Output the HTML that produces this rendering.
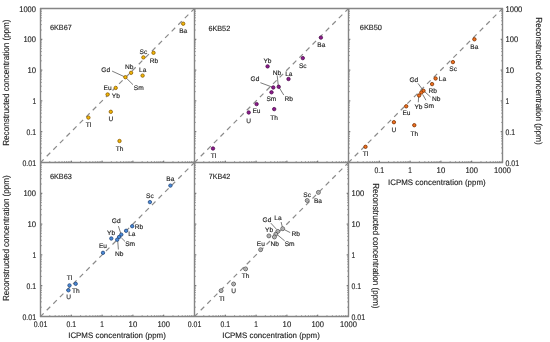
<!DOCTYPE html>
<html><head><meta charset="utf-8"><style>
html,body{margin:0;padding:0;background:#fff;}
svg{display:block;}
text{font-family:"Liberation Sans", sans-serif;text-rendering:geometricPrecision;stroke:#1e1e1e;stroke-width:0.14px;}
</style></head><body>
<svg width="550" height="342" viewBox="0 0 550 342">
<rect width="550" height="342" fill="#fff"/>
<line x1="40.50" y1="162.50" x2="194.50" y2="8.50" stroke="#8a8a8a" stroke-width="1.2" stroke-dasharray="5 4.3" stroke-dashoffset="0.5"/>
<line x1="194.50" y1="162.50" x2="348.50" y2="8.50" stroke="#8a8a8a" stroke-width="1.2" stroke-dasharray="5 4.3" stroke-dashoffset="0.5"/>
<line x1="348.50" y1="162.50" x2="502.50" y2="8.50" stroke="#8a8a8a" stroke-width="1.2" stroke-dasharray="5 4.3" stroke-dashoffset="0.5"/>
<line x1="40.50" y1="316.50" x2="194.50" y2="162.50" stroke="#8a8a8a" stroke-width="1.2" stroke-dasharray="5 4.3" stroke-dashoffset="0.5"/>
<line x1="194.50" y1="316.50" x2="348.50" y2="162.50" stroke="#8a8a8a" stroke-width="1.2" stroke-dasharray="5 4.3" stroke-dashoffset="0.5"/>
<path d="M49.77 162.80V161.50M40.20 153.23H41.50M55.20 162.80V161.50M40.20 147.80H41.50M59.04 162.80V161.50M40.20 143.96H41.50M62.03 162.80V161.50M40.20 140.97H41.50M64.47 162.80V161.50M40.20 138.53H41.50M66.53 162.80V161.50M40.20 136.47H41.50M68.32 162.80V161.50M40.20 134.68H41.50M69.89 162.80V161.50M40.20 133.11H41.50M71.30 162.80V160.70M40.20 131.70H42.30M80.57 162.80V161.50M40.20 122.43H41.50M86.00 162.80V161.50M40.20 117.00H41.50M89.84 162.80V161.50M40.20 113.16H41.50M92.83 162.80V161.50M40.20 110.17H41.50M95.27 162.80V161.50M40.20 107.73H41.50M97.33 162.80V161.50M40.20 105.67H41.50M99.12 162.80V161.50M40.20 103.88H41.50M100.69 162.80V161.50M40.20 102.31H41.50M102.10 162.80V160.70M40.20 100.90H42.30M111.37 162.80V161.50M40.20 91.63H41.50M116.80 162.80V161.50M40.20 86.20H41.50M120.64 162.80V161.50M40.20 82.36H41.50M123.63 162.80V161.50M40.20 79.37H41.50M126.07 162.80V161.50M40.20 76.93H41.50M128.13 162.80V161.50M40.20 74.87H41.50M129.92 162.80V161.50M40.20 73.08H41.50M131.49 162.80V161.50M40.20 71.51H41.50M132.90 162.80V160.70M40.20 70.10H42.30M142.17 162.80V161.50M40.20 60.83H41.50M147.60 162.80V161.50M40.20 55.40H41.50M151.44 162.80V161.50M40.20 51.56H41.50M154.43 162.80V161.50M40.20 48.57H41.50M156.87 162.80V161.50M40.20 46.13H41.50M158.93 162.80V161.50M40.20 44.07H41.50M160.72 162.80V161.50M40.20 42.28H41.50M162.29 162.80V161.50M40.20 40.71H41.50M163.70 162.80V160.70M40.20 39.30H42.30M172.97 162.80V161.50M40.20 30.03H41.50M178.40 162.80V161.50M40.20 24.60H41.50M182.24 162.80V161.50M40.20 20.76H41.50M185.23 162.80V161.50M40.20 17.77H41.50M187.67 162.80V161.50M40.20 15.33H41.50M189.73 162.80V161.50M40.20 13.27H41.50M191.52 162.80V161.50M40.20 11.48H41.50M193.09 162.80V161.50M40.20 9.91H41.50M203.77 162.80V161.50M194.20 153.23H195.50M209.20 162.80V161.50M194.20 147.80H195.50M213.04 162.80V161.50M194.20 143.96H195.50M216.03 162.80V161.50M194.20 140.97H195.50M218.47 162.80V161.50M194.20 138.53H195.50M220.53 162.80V161.50M194.20 136.47H195.50M222.32 162.80V161.50M194.20 134.68H195.50M223.89 162.80V161.50M194.20 133.11H195.50M225.30 162.80V160.70M194.20 131.70H196.30M234.57 162.80V161.50M194.20 122.43H195.50M240.00 162.80V161.50M194.20 117.00H195.50M243.84 162.80V161.50M194.20 113.16H195.50M246.83 162.80V161.50M194.20 110.17H195.50M249.27 162.80V161.50M194.20 107.73H195.50M251.33 162.80V161.50M194.20 105.67H195.50M253.12 162.80V161.50M194.20 103.88H195.50M254.69 162.80V161.50M194.20 102.31H195.50M256.10 162.80V160.70M194.20 100.90H196.30M265.37 162.80V161.50M194.20 91.63H195.50M270.80 162.80V161.50M194.20 86.20H195.50M274.64 162.80V161.50M194.20 82.36H195.50M277.63 162.80V161.50M194.20 79.37H195.50M280.07 162.80V161.50M194.20 76.93H195.50M282.13 162.80V161.50M194.20 74.87H195.50M283.92 162.80V161.50M194.20 73.08H195.50M285.49 162.80V161.50M194.20 71.51H195.50M286.90 162.80V160.70M194.20 70.10H196.30M296.17 162.80V161.50M194.20 60.83H195.50M301.60 162.80V161.50M194.20 55.40H195.50M305.44 162.80V161.50M194.20 51.56H195.50M308.43 162.80V161.50M194.20 48.57H195.50M310.87 162.80V161.50M194.20 46.13H195.50M312.93 162.80V161.50M194.20 44.07H195.50M314.72 162.80V161.50M194.20 42.28H195.50M316.29 162.80V161.50M194.20 40.71H195.50M317.70 162.80V160.70M194.20 39.30H196.30M326.97 162.80V161.50M194.20 30.03H195.50M332.40 162.80V161.50M194.20 24.60H195.50M336.24 162.80V161.50M194.20 20.76H195.50M339.23 162.80V161.50M194.20 17.77H195.50M341.67 162.80V161.50M194.20 15.33H195.50M343.73 162.80V161.50M194.20 13.27H195.50M345.52 162.80V161.50M194.20 11.48H195.50M347.09 162.80V161.50M194.20 9.91H195.50M357.77 162.80V161.50M348.20 153.23H349.50M502.80 153.23H501.50M363.20 162.80V161.50M348.20 147.80H349.50M502.80 147.80H501.50M367.04 162.80V161.50M348.20 143.96H349.50M502.80 143.96H501.50M370.03 162.80V161.50M348.20 140.97H349.50M502.80 140.97H501.50M372.47 162.80V161.50M348.20 138.53H349.50M502.80 138.53H501.50M374.53 162.80V161.50M348.20 136.47H349.50M502.80 136.47H501.50M376.32 162.80V161.50M348.20 134.68H349.50M502.80 134.68H501.50M377.89 162.80V161.50M348.20 133.11H349.50M502.80 133.11H501.50M379.30 162.80V160.70M348.20 131.70H350.30M502.80 131.70H500.70M388.57 162.80V161.50M348.20 122.43H349.50M502.80 122.43H501.50M394.00 162.80V161.50M348.20 117.00H349.50M502.80 117.00H501.50M397.84 162.80V161.50M348.20 113.16H349.50M502.80 113.16H501.50M400.83 162.80V161.50M348.20 110.17H349.50M502.80 110.17H501.50M403.27 162.80V161.50M348.20 107.73H349.50M502.80 107.73H501.50M405.33 162.80V161.50M348.20 105.67H349.50M502.80 105.67H501.50M407.12 162.80V161.50M348.20 103.88H349.50M502.80 103.88H501.50M408.69 162.80V161.50M348.20 102.31H349.50M502.80 102.31H501.50M410.10 162.80V160.70M348.20 100.90H350.30M502.80 100.90H500.70M419.37 162.80V161.50M348.20 91.63H349.50M502.80 91.63H501.50M424.80 162.80V161.50M348.20 86.20H349.50M502.80 86.20H501.50M428.64 162.80V161.50M348.20 82.36H349.50M502.80 82.36H501.50M431.63 162.80V161.50M348.20 79.37H349.50M502.80 79.37H501.50M434.07 162.80V161.50M348.20 76.93H349.50M502.80 76.93H501.50M436.13 162.80V161.50M348.20 74.87H349.50M502.80 74.87H501.50M437.92 162.80V161.50M348.20 73.08H349.50M502.80 73.08H501.50M439.49 162.80V161.50M348.20 71.51H349.50M502.80 71.51H501.50M440.90 162.80V160.70M348.20 70.10H350.30M502.80 70.10H500.70M450.17 162.80V161.50M348.20 60.83H349.50M502.80 60.83H501.50M455.60 162.80V161.50M348.20 55.40H349.50M502.80 55.40H501.50M459.44 162.80V161.50M348.20 51.56H349.50M502.80 51.56H501.50M462.43 162.80V161.50M348.20 48.57H349.50M502.80 48.57H501.50M464.87 162.80V161.50M348.20 46.13H349.50M502.80 46.13H501.50M466.93 162.80V161.50M348.20 44.07H349.50M502.80 44.07H501.50M468.72 162.80V161.50M348.20 42.28H349.50M502.80 42.28H501.50M470.29 162.80V161.50M348.20 40.71H349.50M502.80 40.71H501.50M471.70 162.80V160.70M348.20 39.30H350.30M502.80 39.30H500.70M480.97 162.80V161.50M348.20 30.03H349.50M502.80 30.03H501.50M486.40 162.80V161.50M348.20 24.60H349.50M502.80 24.60H501.50M490.24 162.80V161.50M348.20 20.76H349.50M502.80 20.76H501.50M493.23 162.80V161.50M348.20 17.77H349.50M502.80 17.77H501.50M495.67 162.80V161.50M348.20 15.33H349.50M502.80 15.33H501.50M497.73 162.80V161.50M348.20 13.27H349.50M502.80 13.27H501.50M499.52 162.80V161.50M348.20 11.48H349.50M502.80 11.48H501.50M501.09 162.80V161.50M348.20 9.91H349.50M502.80 9.91H501.50M49.77 316.80V315.50M40.20 307.23H41.50M55.20 316.80V315.50M40.20 301.80H41.50M59.04 316.80V315.50M40.20 297.96H41.50M62.03 316.80V315.50M40.20 294.97H41.50M64.47 316.80V315.50M40.20 292.53H41.50M66.53 316.80V315.50M40.20 290.47H41.50M68.32 316.80V315.50M40.20 288.68H41.50M69.89 316.80V315.50M40.20 287.11H41.50M71.30 316.80V314.70M40.20 285.70H42.30M80.57 316.80V315.50M40.20 276.43H41.50M86.00 316.80V315.50M40.20 271.00H41.50M89.84 316.80V315.50M40.20 267.16H41.50M92.83 316.80V315.50M40.20 264.17H41.50M95.27 316.80V315.50M40.20 261.73H41.50M97.33 316.80V315.50M40.20 259.67H41.50M99.12 316.80V315.50M40.20 257.88H41.50M100.69 316.80V315.50M40.20 256.31H41.50M102.10 316.80V314.70M40.20 254.90H42.30M111.37 316.80V315.50M40.20 245.63H41.50M116.80 316.80V315.50M40.20 240.20H41.50M120.64 316.80V315.50M40.20 236.36H41.50M123.63 316.80V315.50M40.20 233.37H41.50M126.07 316.80V315.50M40.20 230.93H41.50M128.13 316.80V315.50M40.20 228.87H41.50M129.92 316.80V315.50M40.20 227.08H41.50M131.49 316.80V315.50M40.20 225.51H41.50M132.90 316.80V314.70M40.20 224.10H42.30M142.17 316.80V315.50M40.20 214.83H41.50M147.60 316.80V315.50M40.20 209.40H41.50M151.44 316.80V315.50M40.20 205.56H41.50M154.43 316.80V315.50M40.20 202.57H41.50M156.87 316.80V315.50M40.20 200.13H41.50M158.93 316.80V315.50M40.20 198.07H41.50M160.72 316.80V315.50M40.20 196.28H41.50M162.29 316.80V315.50M40.20 194.71H41.50M163.70 316.80V314.70M40.20 193.30H42.30M172.97 316.80V315.50M40.20 184.03H41.50M178.40 316.80V315.50M40.20 178.60H41.50M182.24 316.80V315.50M40.20 174.76H41.50M185.23 316.80V315.50M40.20 171.77H41.50M187.67 316.80V315.50M40.20 169.33H41.50M189.73 316.80V315.50M40.20 167.27H41.50M191.52 316.80V315.50M40.20 165.48H41.50M193.09 316.80V315.50M40.20 163.91H41.50M203.77 316.80V315.50M194.20 307.23H195.50M348.80 307.23H347.50M209.20 316.80V315.50M194.20 301.80H195.50M348.80 301.80H347.50M213.04 316.80V315.50M194.20 297.96H195.50M348.80 297.96H347.50M216.03 316.80V315.50M194.20 294.97H195.50M348.80 294.97H347.50M218.47 316.80V315.50M194.20 292.53H195.50M348.80 292.53H347.50M220.53 316.80V315.50M194.20 290.47H195.50M348.80 290.47H347.50M222.32 316.80V315.50M194.20 288.68H195.50M348.80 288.68H347.50M223.89 316.80V315.50M194.20 287.11H195.50M348.80 287.11H347.50M225.30 316.80V314.70M194.20 285.70H196.30M348.80 285.70H346.70M234.57 316.80V315.50M194.20 276.43H195.50M348.80 276.43H347.50M240.00 316.80V315.50M194.20 271.00H195.50M348.80 271.00H347.50M243.84 316.80V315.50M194.20 267.16H195.50M348.80 267.16H347.50M246.83 316.80V315.50M194.20 264.17H195.50M348.80 264.17H347.50M249.27 316.80V315.50M194.20 261.73H195.50M348.80 261.73H347.50M251.33 316.80V315.50M194.20 259.67H195.50M348.80 259.67H347.50M253.12 316.80V315.50M194.20 257.88H195.50M348.80 257.88H347.50M254.69 316.80V315.50M194.20 256.31H195.50M348.80 256.31H347.50M256.10 316.80V314.70M194.20 254.90H196.30M348.80 254.90H346.70M265.37 316.80V315.50M194.20 245.63H195.50M348.80 245.63H347.50M270.80 316.80V315.50M194.20 240.20H195.50M348.80 240.20H347.50M274.64 316.80V315.50M194.20 236.36H195.50M348.80 236.36H347.50M277.63 316.80V315.50M194.20 233.37H195.50M348.80 233.37H347.50M280.07 316.80V315.50M194.20 230.93H195.50M348.80 230.93H347.50M282.13 316.80V315.50M194.20 228.87H195.50M348.80 228.87H347.50M283.92 316.80V315.50M194.20 227.08H195.50M348.80 227.08H347.50M285.49 316.80V315.50M194.20 225.51H195.50M348.80 225.51H347.50M286.90 316.80V314.70M194.20 224.10H196.30M348.80 224.10H346.70M296.17 316.80V315.50M194.20 214.83H195.50M348.80 214.83H347.50M301.60 316.80V315.50M194.20 209.40H195.50M348.80 209.40H347.50M305.44 316.80V315.50M194.20 205.56H195.50M348.80 205.56H347.50M308.43 316.80V315.50M194.20 202.57H195.50M348.80 202.57H347.50M310.87 316.80V315.50M194.20 200.13H195.50M348.80 200.13H347.50M312.93 316.80V315.50M194.20 198.07H195.50M348.80 198.07H347.50M314.72 316.80V315.50M194.20 196.28H195.50M348.80 196.28H347.50M316.29 316.80V315.50M194.20 194.71H195.50M348.80 194.71H347.50M317.70 316.80V314.70M194.20 193.30H196.30M348.80 193.30H346.70M326.97 316.80V315.50M194.20 184.03H195.50M348.80 184.03H347.50M332.40 316.80V315.50M194.20 178.60H195.50M348.80 178.60H347.50M336.24 316.80V315.50M194.20 174.76H195.50M348.80 174.76H347.50M339.23 316.80V315.50M194.20 171.77H195.50M348.80 171.77H347.50M341.67 316.80V315.50M194.20 169.33H195.50M348.80 169.33H347.50M343.73 316.80V315.50M194.20 167.27H195.50M348.80 167.27H347.50M345.52 316.80V315.50M194.20 165.48H195.50M348.80 165.48H347.50M347.09 316.80V315.50M194.20 163.91H195.50M348.80 163.91H347.50" stroke="#444444" stroke-width="0.9" fill="none"/>
<line x1="40.00" y1="8.50" x2="503.00" y2="8.50" stroke="#858585" stroke-width="1.4" />
<line x1="40.00" y1="162.50" x2="503.00" y2="162.50" stroke="#858585" stroke-width="1.4" />
<line x1="40.00" y1="316.50" x2="349.00" y2="316.50" stroke="#858585" stroke-width="1.4" />
<line x1="40.50" y1="8.00" x2="40.50" y2="317.00" stroke="#858585" stroke-width="1.4" />
<line x1="194.50" y1="8.00" x2="194.50" y2="317.00" stroke="#858585" stroke-width="1.4" />
<line x1="348.50" y1="8.00" x2="348.50" y2="317.00" stroke="#858585" stroke-width="1.4" />
<line x1="502.50" y1="8.00" x2="502.50" y2="163.00" stroke="#858585" stroke-width="1.4" />
<text x="36.00" y="165.64" font-size="8.2" text-anchor="end" fill="#1e1e1e" textLength="13.5" lengthAdjust="spacingAndGlyphs" >0.01</text>
<text x="36.00" y="134.84" font-size="8.2" text-anchor="end" fill="#1e1e1e" textLength="9.5" lengthAdjust="spacingAndGlyphs" >0.1</text>
<text x="36.00" y="104.04" font-size="8.2" text-anchor="end" fill="#1e1e1e" textLength="3.6" lengthAdjust="spacingAndGlyphs" >1</text>
<text x="36.00" y="73.24" font-size="8.2" text-anchor="end" fill="#1e1e1e" textLength="8.6" lengthAdjust="spacingAndGlyphs" >10</text>
<text x="36.00" y="42.44" font-size="8.2" text-anchor="end" fill="#1e1e1e" textLength="12.6" lengthAdjust="spacingAndGlyphs" >100</text>
<text x="36.00" y="11.64" font-size="8.2" text-anchor="end" fill="#1e1e1e" textLength="16.8" lengthAdjust="spacingAndGlyphs" >1000</text>
<text x="36.00" y="319.64" font-size="8.2" text-anchor="end" fill="#1e1e1e" textLength="13.5" lengthAdjust="spacingAndGlyphs" >0.01</text>
<text x="36.00" y="288.84" font-size="8.2" text-anchor="end" fill="#1e1e1e" textLength="9.5" lengthAdjust="spacingAndGlyphs" >0.1</text>
<text x="36.00" y="258.04" font-size="8.2" text-anchor="end" fill="#1e1e1e" textLength="3.6" lengthAdjust="spacingAndGlyphs" >1</text>
<text x="36.00" y="227.24" font-size="8.2" text-anchor="end" fill="#1e1e1e" textLength="8.6" lengthAdjust="spacingAndGlyphs" >10</text>
<text x="36.00" y="196.44" font-size="8.2" text-anchor="end" fill="#1e1e1e" textLength="12.6" lengthAdjust="spacingAndGlyphs" >100</text>
<text x="505.50" y="165.64" font-size="8.2" text-anchor="start" fill="#1e1e1e" textLength="13.5" lengthAdjust="spacingAndGlyphs" >0.01</text>
<text x="505.50" y="134.84" font-size="8.2" text-anchor="start" fill="#1e1e1e" textLength="9.5" lengthAdjust="spacingAndGlyphs" >0.1</text>
<text x="505.50" y="104.04" font-size="8.2" text-anchor="start" fill="#1e1e1e" textLength="3.6" lengthAdjust="spacingAndGlyphs" >1</text>
<text x="505.50" y="73.24" font-size="8.2" text-anchor="start" fill="#1e1e1e" textLength="8.6" lengthAdjust="spacingAndGlyphs" >10</text>
<text x="505.50" y="42.44" font-size="8.2" text-anchor="start" fill="#1e1e1e" textLength="12.6" lengthAdjust="spacingAndGlyphs" >100</text>
<text x="505.50" y="11.64" font-size="8.2" text-anchor="start" fill="#1e1e1e" textLength="16.8" lengthAdjust="spacingAndGlyphs" >1000</text>
<text x="351.50" y="319.64" font-size="8.2" text-anchor="start" fill="#1e1e1e" textLength="13.5" lengthAdjust="spacingAndGlyphs" >0.01</text>
<text x="351.50" y="288.84" font-size="8.2" text-anchor="start" fill="#1e1e1e" textLength="9.5" lengthAdjust="spacingAndGlyphs" >0.1</text>
<text x="351.50" y="258.04" font-size="8.2" text-anchor="start" fill="#1e1e1e" textLength="3.6" lengthAdjust="spacingAndGlyphs" >1</text>
<text x="351.50" y="227.24" font-size="8.2" text-anchor="start" fill="#1e1e1e" textLength="8.6" lengthAdjust="spacingAndGlyphs" >10</text>
<text x="351.50" y="196.44" font-size="8.2" text-anchor="start" fill="#1e1e1e" textLength="12.6" lengthAdjust="spacingAndGlyphs" >100</text>
<text x="379.30" y="173.24" font-size="8.2" text-anchor="middle" fill="#1e1e1e" textLength="9.5" lengthAdjust="spacingAndGlyphs" >0.1</text>
<text x="410.10" y="173.24" font-size="8.2" text-anchor="middle" fill="#1e1e1e" textLength="3.6" lengthAdjust="spacingAndGlyphs" >1</text>
<text x="440.90" y="173.24" font-size="8.2" text-anchor="middle" fill="#1e1e1e" textLength="8.6" lengthAdjust="spacingAndGlyphs" >10</text>
<text x="471.70" y="173.24" font-size="8.2" text-anchor="middle" fill="#1e1e1e" textLength="12.6" lengthAdjust="spacingAndGlyphs" >100</text>
<text x="502.50" y="173.24" font-size="8.2" text-anchor="middle" fill="#1e1e1e" textLength="16.8" lengthAdjust="spacingAndGlyphs" >1000</text>
<text x="40.50" y="326.94" font-size="8.2" text-anchor="middle" fill="#1e1e1e" textLength="13.5" lengthAdjust="spacingAndGlyphs" >0.01</text>
<text x="71.30" y="326.94" font-size="8.2" text-anchor="middle" fill="#1e1e1e" textLength="9.5" lengthAdjust="spacingAndGlyphs" >0.1</text>
<text x="102.10" y="326.94" font-size="8.2" text-anchor="middle" fill="#1e1e1e" textLength="3.6" lengthAdjust="spacingAndGlyphs" >1</text>
<text x="132.90" y="326.94" font-size="8.2" text-anchor="middle" fill="#1e1e1e" textLength="8.6" lengthAdjust="spacingAndGlyphs" >10</text>
<text x="163.70" y="326.94" font-size="8.2" text-anchor="middle" fill="#1e1e1e" textLength="12.6" lengthAdjust="spacingAndGlyphs" >100</text>
<text x="194.50" y="326.94" font-size="8.2" text-anchor="middle" fill="#1e1e1e" textLength="13.5" lengthAdjust="spacingAndGlyphs" >0.01</text>
<text x="225.30" y="326.94" font-size="8.2" text-anchor="middle" fill="#1e1e1e" textLength="9.5" lengthAdjust="spacingAndGlyphs" >0.1</text>
<text x="256.10" y="326.94" font-size="8.2" text-anchor="middle" fill="#1e1e1e" textLength="3.6" lengthAdjust="spacingAndGlyphs" >1</text>
<text x="286.90" y="326.94" font-size="8.2" text-anchor="middle" fill="#1e1e1e" textLength="8.6" lengthAdjust="spacingAndGlyphs" >10</text>
<text x="317.70" y="326.94" font-size="8.2" text-anchor="middle" fill="#1e1e1e" textLength="12.6" lengthAdjust="spacingAndGlyphs" >100</text>
<text x="348.50" y="326.94" font-size="8.2" text-anchor="middle" fill="#1e1e1e" textLength="16.8" lengthAdjust="spacingAndGlyphs" >1000</text>
<text transform="translate(8.70,82.60) rotate(-90)" x="0" y="0" font-size="8.8" text-anchor="middle" fill="#1e1e1e" textLength="126.3" lengthAdjust="spacingAndGlyphs">Reconstructed concentration (ppm)</text>
<text transform="translate(8.70,238.20) rotate(-90)" x="0" y="0" font-size="8.8" text-anchor="middle" fill="#1e1e1e" textLength="125.6" lengthAdjust="spacingAndGlyphs">Reconstructed concentration (ppm)</text>
<text transform="translate(535.70,81.00) rotate(90)" x="0" y="0" font-size="8.8" text-anchor="middle" fill="#1e1e1e" textLength="127.3" lengthAdjust="spacingAndGlyphs">Reconstructed concentration (ppm)</text>
<text transform="translate(372.60,245.80) rotate(90)" x="0" y="0" font-size="8.8" text-anchor="middle" fill="#1e1e1e" textLength="125.3" lengthAdjust="spacingAndGlyphs">Reconstructed concentration (ppm)</text>
<text x="436.80" y="185.36" font-size="8.0" text-anchor="middle" fill="#1e1e1e" textLength="97.6" lengthAdjust="spacingAndGlyphs" >ICPMS concentration (ppm)</text>
<text x="117.00" y="337.86" font-size="8.0" text-anchor="middle" fill="#1e1e1e" textLength="97.6" lengthAdjust="spacingAndGlyphs" >ICPMS concentration (ppm)</text>
<text x="271.00" y="337.86" font-size="8.0" text-anchor="middle" fill="#1e1e1e" textLength="97.6" lengthAdjust="spacingAndGlyphs" >ICPMS concentration (ppm)</text>
<text x="49.90" y="30.02" font-size="7.6" text-anchor="start" fill="#1e1e1e" textLength="21.9" lengthAdjust="spacingAndGlyphs" >6KB67</text>
<text x="208.40" y="30.52" font-size="7.6" text-anchor="start" fill="#1e1e1e" textLength="21.8" lengthAdjust="spacingAndGlyphs" >6KB52</text>
<text x="359.80" y="30.42" font-size="7.6" text-anchor="start" fill="#1e1e1e" textLength="22.2" lengthAdjust="spacingAndGlyphs" >6KB50</text>
<text x="49.90" y="178.92" font-size="7.6" text-anchor="start" fill="#1e1e1e" textLength="21.9" lengthAdjust="spacingAndGlyphs" >6KB63</text>
<text x="208.70" y="178.72" font-size="7.6" text-anchor="start" fill="#1e1e1e" textLength="21.5" lengthAdjust="spacingAndGlyphs" >7KB42</text>
<line x1="112.10" y1="71.10" x2="125.40" y2="77.20" stroke="#444" stroke-width="0.7" />
<line x1="125.40" y1="77.20" x2="133.00" y2="84.70" stroke="#444" stroke-width="0.7" />
<circle cx="183.20" cy="23.70" r="1.7" fill="#f2b705" stroke="#8a5a00" stroke-width="0.8"/>
<circle cx="153.50" cy="52.80" r="1.7" fill="#f2b705" stroke="#8a5a00" stroke-width="0.8"/>
<circle cx="143.40" cy="57.40" r="1.7" fill="#f2b705" stroke="#8a5a00" stroke-width="0.8"/>
<circle cx="131.10" cy="72.80" r="1.7" fill="#f2b705" stroke="#8a5a00" stroke-width="0.8"/>
<circle cx="142.60" cy="75.60" r="1.7" fill="#f2b705" stroke="#8a5a00" stroke-width="0.8"/>
<circle cx="125.40" cy="77.20" r="1.7" fill="#f2b705" stroke="#8a5a00" stroke-width="0.8"/>
<circle cx="115.70" cy="87.90" r="1.7" fill="#f2b705" stroke="#8a5a00" stroke-width="0.8"/>
<circle cx="107.60" cy="94.50" r="1.7" fill="#f2b705" stroke="#8a5a00" stroke-width="0.8"/>
<circle cx="110.80" cy="111.80" r="1.7" fill="#f2b705" stroke="#8a5a00" stroke-width="0.8"/>
<circle cx="88.40" cy="117.60" r="1.7" fill="#f2b705" stroke="#8a5a00" stroke-width="0.8"/>
<circle cx="119.50" cy="141.00" r="1.7" fill="#f2b705" stroke="#8a5a00" stroke-width="0.8"/>
<text x="183.20" y="33.36" font-size="6.6" text-anchor="middle" fill="#1e1e1e" >Ba</text>
<text x="154.00" y="62.66" font-size="6.6" text-anchor="middle" fill="#1e1e1e" >Rb</text>
<text x="143.40" y="53.76" font-size="6.6" text-anchor="middle" fill="#1e1e1e" >Sc</text>
<text x="129.30" y="68.96" font-size="6.6" text-anchor="middle" fill="#1e1e1e" >Nb</text>
<text x="142.70" y="72.06" font-size="6.6" text-anchor="middle" fill="#1e1e1e" >La</text>
<text x="105.70" y="71.86" font-size="6.6" text-anchor="middle" fill="#1e1e1e" >Gd</text>
<text x="138.70" y="90.36" font-size="6.6" text-anchor="middle" fill="#1e1e1e" >Sm</text>
<text x="107.60" y="89.76" font-size="6.6" text-anchor="middle" fill="#1e1e1e" >Eu</text>
<text x="115.80" y="97.66" font-size="6.6" text-anchor="middle" fill="#1e1e1e" >Yb</text>
<text x="110.80" y="120.76" font-size="6.6" text-anchor="middle" fill="#1e1e1e" >U</text>
<text x="88.40" y="126.86" font-size="6.6" text-anchor="middle" fill="#1e1e1e" >Tl</text>
<text x="119.50" y="151.36" font-size="6.6" text-anchor="middle" fill="#1e1e1e" >Th</text>
<line x1="260.40" y1="82.70" x2="273.30" y2="87.50" stroke="#444" stroke-width="0.7" />
<line x1="277.20" y1="75.40" x2="278.40" y2="86.80" stroke="#444" stroke-width="0.7" />
<line x1="283.80" y1="95.10" x2="278.70" y2="86.80" stroke="#444" stroke-width="0.7" />
<circle cx="320.90" cy="37.60" r="1.7" fill="#8e1a8e" stroke="#4a0a4a" stroke-width="0.8"/>
<circle cx="302.80" cy="58.10" r="1.7" fill="#8e1a8e" stroke="#4a0a4a" stroke-width="0.8"/>
<circle cx="267.60" cy="66.40" r="1.7" fill="#8e1a8e" stroke="#4a0a4a" stroke-width="0.8"/>
<circle cx="288.50" cy="79.00" r="1.7" fill="#8e1a8e" stroke="#4a0a4a" stroke-width="0.8"/>
<circle cx="273.30" cy="87.50" r="1.7" fill="#8e1a8e" stroke="#4a0a4a" stroke-width="0.8"/>
<circle cx="278.70" cy="86.80" r="1.7" fill="#8e1a8e" stroke="#4a0a4a" stroke-width="0.8"/>
<circle cx="271.50" cy="92.30" r="1.7" fill="#8e1a8e" stroke="#4a0a4a" stroke-width="0.8"/>
<circle cx="256.60" cy="104.10" r="1.7" fill="#8e1a8e" stroke="#4a0a4a" stroke-width="0.8"/>
<circle cx="248.70" cy="112.50" r="1.7" fill="#8e1a8e" stroke="#4a0a4a" stroke-width="0.8"/>
<circle cx="274.20" cy="109.10" r="1.7" fill="#8e1a8e" stroke="#4a0a4a" stroke-width="0.8"/>
<circle cx="213.00" cy="148.50" r="1.7" fill="#8e1a8e" stroke="#4a0a4a" stroke-width="0.8"/>
<text x="321.30" y="46.66" font-size="6.6" text-anchor="middle" fill="#1e1e1e" >Ba</text>
<text x="302.80" y="68.16" font-size="6.6" text-anchor="middle" fill="#1e1e1e" >Sc</text>
<text x="267.50" y="62.56" font-size="6.6" text-anchor="middle" fill="#1e1e1e" >Yb</text>
<text x="276.90" y="74.56" font-size="6.6" text-anchor="middle" fill="#1e1e1e" >Nb</text>
<text x="288.80" y="75.76" font-size="6.6" text-anchor="middle" fill="#1e1e1e" >La</text>
<text x="255.00" y="81.36" font-size="6.6" text-anchor="middle" fill="#1e1e1e" >Gd</text>
<text x="271.40" y="100.76" font-size="6.6" text-anchor="middle" fill="#1e1e1e" >Sm</text>
<text x="288.60" y="100.76" font-size="6.6" text-anchor="middle" fill="#1e1e1e" >Rb</text>
<text x="256.50" y="113.36" font-size="6.6" text-anchor="middle" fill="#1e1e1e" >Eu</text>
<text x="248.70" y="122.86" font-size="6.6" text-anchor="middle" fill="#1e1e1e" >U</text>
<text x="274.20" y="119.76" font-size="6.6" text-anchor="middle" fill="#1e1e1e" >Th</text>
<text x="213.40" y="158.26" font-size="6.6" text-anchor="middle" fill="#1e1e1e" >Tl</text>
<line x1="418.00" y1="83.40" x2="422.60" y2="89.60" stroke="#444" stroke-width="0.7" />
<line x1="424.80" y1="91.80" x2="430.60" y2="97.00" stroke="#444" stroke-width="0.7" />
<line x1="422.70" y1="94.40" x2="425.90" y2="100.20" stroke="#444" stroke-width="0.7" />
<line x1="418.60" y1="97.00" x2="418.30" y2="102.30" stroke="#444" stroke-width="0.7" />
<circle cx="474.40" cy="39.30" r="1.7" fill="#f07020" stroke="#7a3000" stroke-width="0.8"/>
<circle cx="452.90" cy="62.10" r="1.7" fill="#f07020" stroke="#7a3000" stroke-width="0.8"/>
<circle cx="435.60" cy="78.50" r="1.7" fill="#f07020" stroke="#7a3000" stroke-width="0.8"/>
<circle cx="432.10" cy="84.10" r="1.7" fill="#f07020" stroke="#7a3000" stroke-width="0.8"/>
<circle cx="423.50" cy="90.80" r="1.7" fill="#f07020" stroke="#7a3000" stroke-width="0.8"/>
<circle cx="421.30" cy="92.50" r="1.7" fill="#f07020" stroke="#7a3000" stroke-width="0.8"/>
<circle cx="419.10" cy="95.50" r="1.7" fill="#f07020" stroke="#7a3000" stroke-width="0.8"/>
<circle cx="406.20" cy="106.30" r="1.7" fill="#f07020" stroke="#7a3000" stroke-width="0.8"/>
<circle cx="393.90" cy="122.20" r="1.7" fill="#f07020" stroke="#7a3000" stroke-width="0.8"/>
<circle cx="414.30" cy="125.20" r="1.7" fill="#f07020" stroke="#7a3000" stroke-width="0.8"/>
<circle cx="365.50" cy="146.80" r="1.7" fill="#f07020" stroke="#7a3000" stroke-width="0.8"/>
<text x="474.40" y="49.16" font-size="6.6" text-anchor="middle" fill="#1e1e1e" >Ba</text>
<text x="453.10" y="70.66" font-size="6.6" text-anchor="middle" fill="#1e1e1e" >Sc</text>
<text x="442.40" y="80.76" font-size="6.6" text-anchor="middle" fill="#1e1e1e" >La</text>
<text x="432.70" y="93.16" font-size="6.6" text-anchor="middle" fill="#1e1e1e" >Rb</text>
<text x="413.80" y="81.66" font-size="6.6" text-anchor="middle" fill="#1e1e1e" >Gd</text>
<text x="436.30" y="100.66" font-size="6.6" text-anchor="middle" fill="#1e1e1e" >Nb</text>
<text x="429.00" y="108.36" font-size="6.6" text-anchor="middle" fill="#1e1e1e" >Sm</text>
<text x="418.50" y="109.16" font-size="6.6" text-anchor="middle" fill="#1e1e1e" >Yb</text>
<text x="406.50" y="115.06" font-size="6.6" text-anchor="middle" fill="#1e1e1e" >Eu</text>
<text x="393.90" y="131.56" font-size="6.6" text-anchor="middle" fill="#1e1e1e" >U</text>
<text x="414.30" y="135.56" font-size="6.6" text-anchor="middle" fill="#1e1e1e" >Th</text>
<text x="365.50" y="155.56" font-size="6.6" text-anchor="middle" fill="#1e1e1e" >Tl</text>
<line x1="118.40" y1="226.10" x2="120.80" y2="233.60" stroke="#444" stroke-width="0.7" />
<line x1="121.30" y1="237.80" x2="125.00" y2="241.40" stroke="#444" stroke-width="0.7" />
<line x1="117.70" y1="240.70" x2="118.40" y2="249.50" stroke="#444" stroke-width="0.7" />
<circle cx="170.40" cy="185.60" r="1.7" fill="#4a8ad8" stroke="#24487a" stroke-width="0.8"/>
<circle cx="149.90" cy="202.10" r="1.7" fill="#4a8ad8" stroke="#24487a" stroke-width="0.8"/>
<circle cx="132.20" cy="226.20" r="1.7" fill="#4a8ad8" stroke="#24487a" stroke-width="0.8"/>
<circle cx="126.10" cy="230.80" r="1.7" fill="#4a8ad8" stroke="#24487a" stroke-width="0.8"/>
<circle cx="121.30" cy="234.60" r="1.7" fill="#4a8ad8" stroke="#24487a" stroke-width="0.8"/>
<circle cx="119.10" cy="237.00" r="1.7" fill="#4a8ad8" stroke="#24487a" stroke-width="0.8"/>
<circle cx="117.20" cy="239.70" r="1.7" fill="#4a8ad8" stroke="#24487a" stroke-width="0.8"/>
<circle cx="111.30" cy="238.50" r="1.7" fill="#4a8ad8" stroke="#24487a" stroke-width="0.8"/>
<circle cx="103.00" cy="252.80" r="1.7" fill="#4a8ad8" stroke="#24487a" stroke-width="0.8"/>
<circle cx="69.50" cy="285.40" r="1.7" fill="#4a8ad8" stroke="#24487a" stroke-width="0.8"/>
<circle cx="75.70" cy="283.80" r="1.7" fill="#4a8ad8" stroke="#24487a" stroke-width="0.8"/>
<circle cx="68.40" cy="290.30" r="1.7" fill="#4a8ad8" stroke="#24487a" stroke-width="0.8"/>
<text x="170.30" y="181.36" font-size="6.6" text-anchor="middle" fill="#1e1e1e" >Ba</text>
<text x="149.90" y="198.36" font-size="6.6" text-anchor="middle" fill="#1e1e1e" >Sc</text>
<text x="138.90" y="228.76" font-size="6.6" text-anchor="middle" fill="#1e1e1e" >Rb</text>
<text x="131.80" y="235.96" font-size="6.6" text-anchor="middle" fill="#1e1e1e" >La</text>
<text x="116.20" y="223.36" font-size="6.6" text-anchor="middle" fill="#1e1e1e" >Gd</text>
<text x="111.10" y="234.86" font-size="6.6" text-anchor="middle" fill="#1e1e1e" >Yb</text>
<text x="130.10" y="246.26" font-size="6.6" text-anchor="middle" fill="#1e1e1e" >Sm</text>
<text x="119.10" y="256.26" font-size="6.6" text-anchor="middle" fill="#1e1e1e" >Nb</text>
<text x="103.00" y="248.16" font-size="6.6" text-anchor="middle" fill="#1e1e1e" >Eu</text>
<text x="69.50" y="280.36" font-size="6.6" text-anchor="middle" fill="#1e1e1e" >Tl</text>
<text x="75.90" y="293.16" font-size="6.6" text-anchor="middle" fill="#1e1e1e" >Th</text>
<text x="68.70" y="299.26" font-size="6.6" text-anchor="middle" fill="#1e1e1e" >U</text>
<line x1="281.10" y1="222.00" x2="282.40" y2="227.20" stroke="#444" stroke-width="0.7" />
<line x1="270.80" y1="223.10" x2="276.60" y2="229.40" stroke="#444" stroke-width="0.7" />
<line x1="284.70" y1="229.80" x2="290.20" y2="232.60" stroke="#444" stroke-width="0.7" />
<line x1="278.00" y1="235.30" x2="284.70" y2="240.90" stroke="#444" stroke-width="0.7" />
<circle cx="318.40" cy="192.40" r="1.95" fill="#d6d6d6" stroke="#4a4a4a" stroke-width="0.8"/>
<path d="M317.10 192.40h2.6M318.40 191.10v2.6" stroke="#8a8a8a" stroke-width="0.5"/>
<circle cx="307.20" cy="200.50" r="1.95" fill="#d6d6d6" stroke="#4a4a4a" stroke-width="0.8"/>
<path d="M305.90 200.50h2.6M307.20 199.20v2.6" stroke="#8a8a8a" stroke-width="0.5"/>
<circle cx="282.70" cy="228.70" r="1.95" fill="#d6d6d6" stroke="#4a4a4a" stroke-width="0.8"/>
<path d="M281.40 228.70h2.6M282.70 227.40v2.6" stroke="#8a8a8a" stroke-width="0.5"/>
<circle cx="277.80" cy="231.40" r="1.95" fill="#d6d6d6" stroke="#4a4a4a" stroke-width="0.8"/>
<path d="M276.50 231.40h2.6M277.80 230.10v2.6" stroke="#8a8a8a" stroke-width="0.5"/>
<circle cx="275.80" cy="234.20" r="1.95" fill="#d6d6d6" stroke="#4a4a4a" stroke-width="0.8"/>
<path d="M274.50 234.20h2.6M275.80 232.90v2.6" stroke="#8a8a8a" stroke-width="0.5"/>
<circle cx="274.40" cy="237.00" r="1.95" fill="#d6d6d6" stroke="#4a4a4a" stroke-width="0.8"/>
<path d="M273.10 237.00h2.6M274.40 235.70v2.6" stroke="#8a8a8a" stroke-width="0.5"/>
<circle cx="268.90" cy="235.90" r="1.95" fill="#d6d6d6" stroke="#4a4a4a" stroke-width="0.8"/>
<path d="M267.60 235.90h2.6M268.90 234.60v2.6" stroke="#8a8a8a" stroke-width="0.5"/>
<circle cx="260.60" cy="249.70" r="1.95" fill="#d6d6d6" stroke="#4a4a4a" stroke-width="0.8"/>
<path d="M259.30 249.70h2.6M260.60 248.40v2.6" stroke="#8a8a8a" stroke-width="0.5"/>
<circle cx="245.60" cy="268.90" r="1.95" fill="#d6d6d6" stroke="#4a4a4a" stroke-width="0.8"/>
<path d="M244.30 268.90h2.6M245.60 267.60v2.6" stroke="#8a8a8a" stroke-width="0.5"/>
<circle cx="233.60" cy="284.00" r="1.95" fill="#d6d6d6" stroke="#4a4a4a" stroke-width="0.8"/>
<path d="M232.30 284.00h2.6M233.60 282.70v2.6" stroke="#8a8a8a" stroke-width="0.5"/>
<circle cx="221.10" cy="290.70" r="1.95" fill="#d6d6d6" stroke="#4a4a4a" stroke-width="0.8"/>
<path d="M219.80 290.70h2.6M221.10 289.40v2.6" stroke="#8a8a8a" stroke-width="0.5"/>
<text x="318.00" y="202.86" font-size="6.6" text-anchor="middle" fill="#1e1e1e" >Ba</text>
<text x="307.20" y="197.06" font-size="6.6" text-anchor="middle" fill="#1e1e1e" >Sc</text>
<text x="278.00" y="219.76" font-size="6.6" text-anchor="middle" fill="#1e1e1e" >La</text>
<text x="266.90" y="221.86" font-size="6.6" text-anchor="middle" fill="#1e1e1e" >Gd</text>
<text x="269.10" y="232.36" font-size="6.6" text-anchor="middle" fill="#1e1e1e" >Yb</text>
<text x="295.70" y="236.06" font-size="6.6" text-anchor="middle" fill="#1e1e1e" >Rb</text>
<text x="289.60" y="246.06" font-size="6.6" text-anchor="middle" fill="#1e1e1e" >Sm</text>
<text x="274.80" y="246.26" font-size="6.6" text-anchor="middle" fill="#1e1e1e" >Nb</text>
<text x="260.80" y="245.86" font-size="6.6" text-anchor="middle" fill="#1e1e1e" >Eu</text>
<text x="245.60" y="278.36" font-size="6.6" text-anchor="middle" fill="#1e1e1e" >Th</text>
<text x="233.60" y="293.46" font-size="6.6" text-anchor="middle" fill="#1e1e1e" >U</text>
<text x="221.80" y="300.56" font-size="6.6" text-anchor="middle" fill="#1e1e1e" >Tl</text>
</svg>
</body></html>
